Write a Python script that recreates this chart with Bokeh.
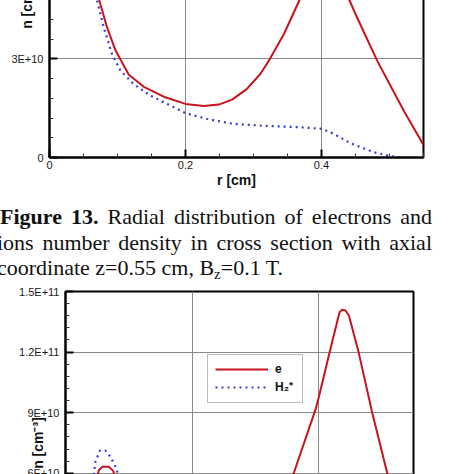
from bokeh.plotting import figure
from bokeh.layouts import column
from bokeh.models import FixedTicker, Legend, LegendItem, Div, Range1d
from bokeh.embed import file_html
from bokeh.resources import INLINE

# ---- data -------------------------------------------------------------
# upper chart: cross section z = 0.55 cm, Bz = 0.1 T  (r in cm, n in cm^-3)
r_e_upper = [0.065, 0.0735, 0.0848, 0.097, 0.1166, 0.1387, 0.168, 0.2, 0.227,
             0.249, 0.2686, 0.29, 0.31, 0.3225, 0.3446, 0.367, 0.39, 0.402,
             0.412, 0.43, 0.4416, 0.4525, 0.482, 0.521, 0.55]
n_e_upper = [5.4e10, 4.76e10, 3.95e10, 3.26e10, 2.52e10, 2.15e10, 1.85e10,
             1.63e10, 1.57e10, 1.61e10, 1.76e10, 2.08e10, 2.54e10, 2.94e10,
             3.75e10, 4.76e10, 5.8e10, 6.3e10, 6.3e10, 5.3e10, 4.76e10,
             4.25e10, 2.94e10, 1.42e10, 3.8e9]
r_h2_upper = [0.063, 0.0701, 0.0799, 0.092, 0.1044, 0.124, 0.1485, 0.173, 0.2,
              0.232, 0.271, 0.32, 0.369, 0.401, 0.418, 0.443, 0.477, 0.5016,
              0.516]
n_h2_upper = [5.3e10, 4.76e10, 3.95e10, 3.14e10, 2.64e10, 2.23e10, 1.88e10,
              1.63e10, 1.35e10, 1.17e10, 1.02e10, 9.6e9, 9.2e9, 8.7e9, 7.2e9,
              4.3e9, 1.6e9, 4e8, 0.0]

# lower chart
r_e_lower = [0.03, 0.046, 0.0527, 0.058, 0.0684, 0.0754, 0.082, 0.1, 0.15,
             0.2, 0.25, 0.3, 0.34, 0.3607, 0.3956, 0.401, 0.4175, 0.4332,
             0.437, 0.4425, 0.448, 0.4632, 0.4845, 0.5085, 0.53, 0.55]
n_e_lower = [4.0e10, 5.3e10, 6.15e10, 6.32e10, 6.32e10, 6.12e10, 5.3e10,
             4.2e10, 3.2e10, 2.6e10, 2.4e10, 2.8e10, 4.0e10, 6.0e10, 9.2e10,
             9.85e10, 1.2e11, 1.398e11, 1.41e11, 1.406e11, 1.38e11, 1.2e11,
             9.03e10, 6.0e10, 4.0e10, 2.2e10]
r_h2_lower = [0.03, 0.04, 0.0449, 0.0474, 0.0543, 0.0632, 0.0711, 0.079,
              0.0826, 0.09, 0.12, 0.2, 0.3, 0.4, 0.5, 0.55]
n_h2_lower = [4.2e10, 5.4e10, 6.0e10, 6.58e10, 7.12e10, 7.12e10, 6.82e10,
              6.32e10, 6.0e10, 5.2e10, 3.6e10, 1.9e10, 1.2e10, 9e9, 2e9, 0.0]

r_ticks = [0, 0.2, 0.4]
r_tick_labels = ["0", "0.2", "0.4"]
n_ticks = [0, 3e10, 6e10, 9e10, 1.2e11, 1.5e11]
n_tick_labels = ["0", "3E+10", "6E+10", "9E+10", "1.2E+11", "1.5E+11"]

series_labels = ["e", "H\u2082\u207a"]
caption_lines = [
    "<b>Figure 13.</b> Radial distribution of electrons and",
    "ions number density in cross section with axial",
    "coordinate z=0.55 cm, B<sub style='font-size:15px;vertical-align:-4px;"
    "line-height:0'>z</sub>=0.1 T.",
]

RED = "#c8141e"
BLUE = "#3a3ec8"
SANS = "Liberation Sans"

r_minor = [i * 0.05 for i in range(12) if i % 4]
n_minor = [k * 6e9 for k in range(26) if k % 5]


def make_chart(height, border_top, border_left, border_right, y_end,
               title_standoff):
    p = figure(width=474, height=height, x_range=Range1d(0, 0.55),
               y_range=Range1d(0, y_end), toolbar_location=None,
               output_backend="svg", min_border_top=border_top,
               min_border_bottom=40, min_border_left=border_left,
               min_border_right=border_right, frame_align=False)
    p.background_fill_color = "white"
    p.border_fill_color = "white"
    p.outline_line_color = "black"
    p.outline_line_width = 2

    p.xaxis.ticker = FixedTicker(ticks=r_ticks, minor_ticks=r_minor)
    p.yaxis.ticker = FixedTicker(ticks=n_ticks, minor_ticks=n_minor)
    p.xaxis.major_label_overrides = dict(zip(r_ticks, r_tick_labels))
    p.yaxis.major_label_overrides = dict(zip(n_ticks, n_tick_labels))

    for ax in (p.xaxis, p.yaxis):
        ax.axis_line_width = 2
        ax.axis_line_color = "black"
        ax.major_tick_in = 8
        ax.major_tick_out = 0
        ax.minor_tick_in = 4
        ax.minor_tick_out = 0
        ax.major_tick_line_width = 2
        ax.minor_tick_line_width = 1
        ax.major_tick_line_color = "black"
        ax.minor_tick_line_color = "#333333"
        ax.major_label_text_font = SANS
        ax.major_label_text_font_size = "11px"
        ax.major_label_text_color = "#1a1a1a"
        ax.axis_label_text_font = SANS
        ax.axis_label_text_font_size = "14px"
        ax.axis_label_text_font_style = "bold"
        ax.axis_label_text_color = "#111111"

    p.xaxis.axis_label = "r [cm]"
    p.yaxis.axis_label = "n [cm\u207b\u00b3]"
    p.xaxis.major_label_standoff = 3
    p.xaxis.axis_label_standoff = 0
    p.yaxis.major_label_standoff = 6
    p.yaxis.axis_label_standoff = title_standoff

    p.grid.grid_line_color = "#8a8a8a"
    p.grid.grid_line_width = 1
    return p


# upper chart: frame reaches above the visible page
upper = make_chart(349, 0, 49, 51, 9.4e10, -27)
upper.margin = (-152, 0, 0, 0)
upper.line(r_e_upper, n_e_upper, line_color=RED, line_width=2)
upper.line(r_h2_upper, n_h2_upper, line_color=BLUE, line_width=2.2,
           line_dash="2 4")

caption_html = (
    "<div style=\"font-family:'Liberation Serif',serif;font-size:22px;"
    "line-height:25.5px;color:#111;margin-left:-3px;padding-top:7px;\">"
    + "".join(
        "<div style='width:435px;text-align:justify;text-align-last:%s;"
        "padding-left:%dpx'>%s</div>"
        % ("justify" if i < 2 else "left", 3 if i == 0 else 0, line)
        for i, line in enumerate(caption_lines))
    + "</div>"
)
caption = Div(text=caption_html, width=474, height=84, margin=(0, 0, 0, 0))

# lower chart: frame continues below the visible page
lower = make_chart(353, 10, 65, 61, 1.5e11, -30)
lower.margin = (0, 0, 0, 0)
e_line = lower.line(r_e_lower, n_e_lower, line_color=RED, line_width=2)
h2_line = lower.line(r_h2_lower, n_h2_lower, line_color=BLUE, line_width=2.2,
                     line_dash="2 4")

legend = Legend(items=[LegendItem(label=series_labels[0], renderers=[e_line]),
                       LegendItem(label=series_labels[1], renderers=[h2_line])],
                location=(142, 191))
legend.border_line_color = "#7a7a7a"
legend.border_line_width = 1
legend.background_fill_color = "white"
legend.background_fill_alpha = 1
legend.padding = 7
legend.spacing = 2
legend.margin = 0
legend.glyph_width = 53
legend.glyph_height = 14
legend.label_height = 14
legend.label_standoff = 7
legend.label_text_font = SANS
legend.label_text_font_size = "12px"
legend.label_text_font_style = "bold"
legend.label_text_color = "#111111"
lower.add_layout(legend, "center")

page = column(upper, caption, lower, spacing=0, margin=(0, 0, 0, 0))

html = file_html(page, INLINE)
html = html.replace("<body>", "<body style=\"margin:0;overflow:hidden;\">", 1)
open("out.html", "w").write(html)
